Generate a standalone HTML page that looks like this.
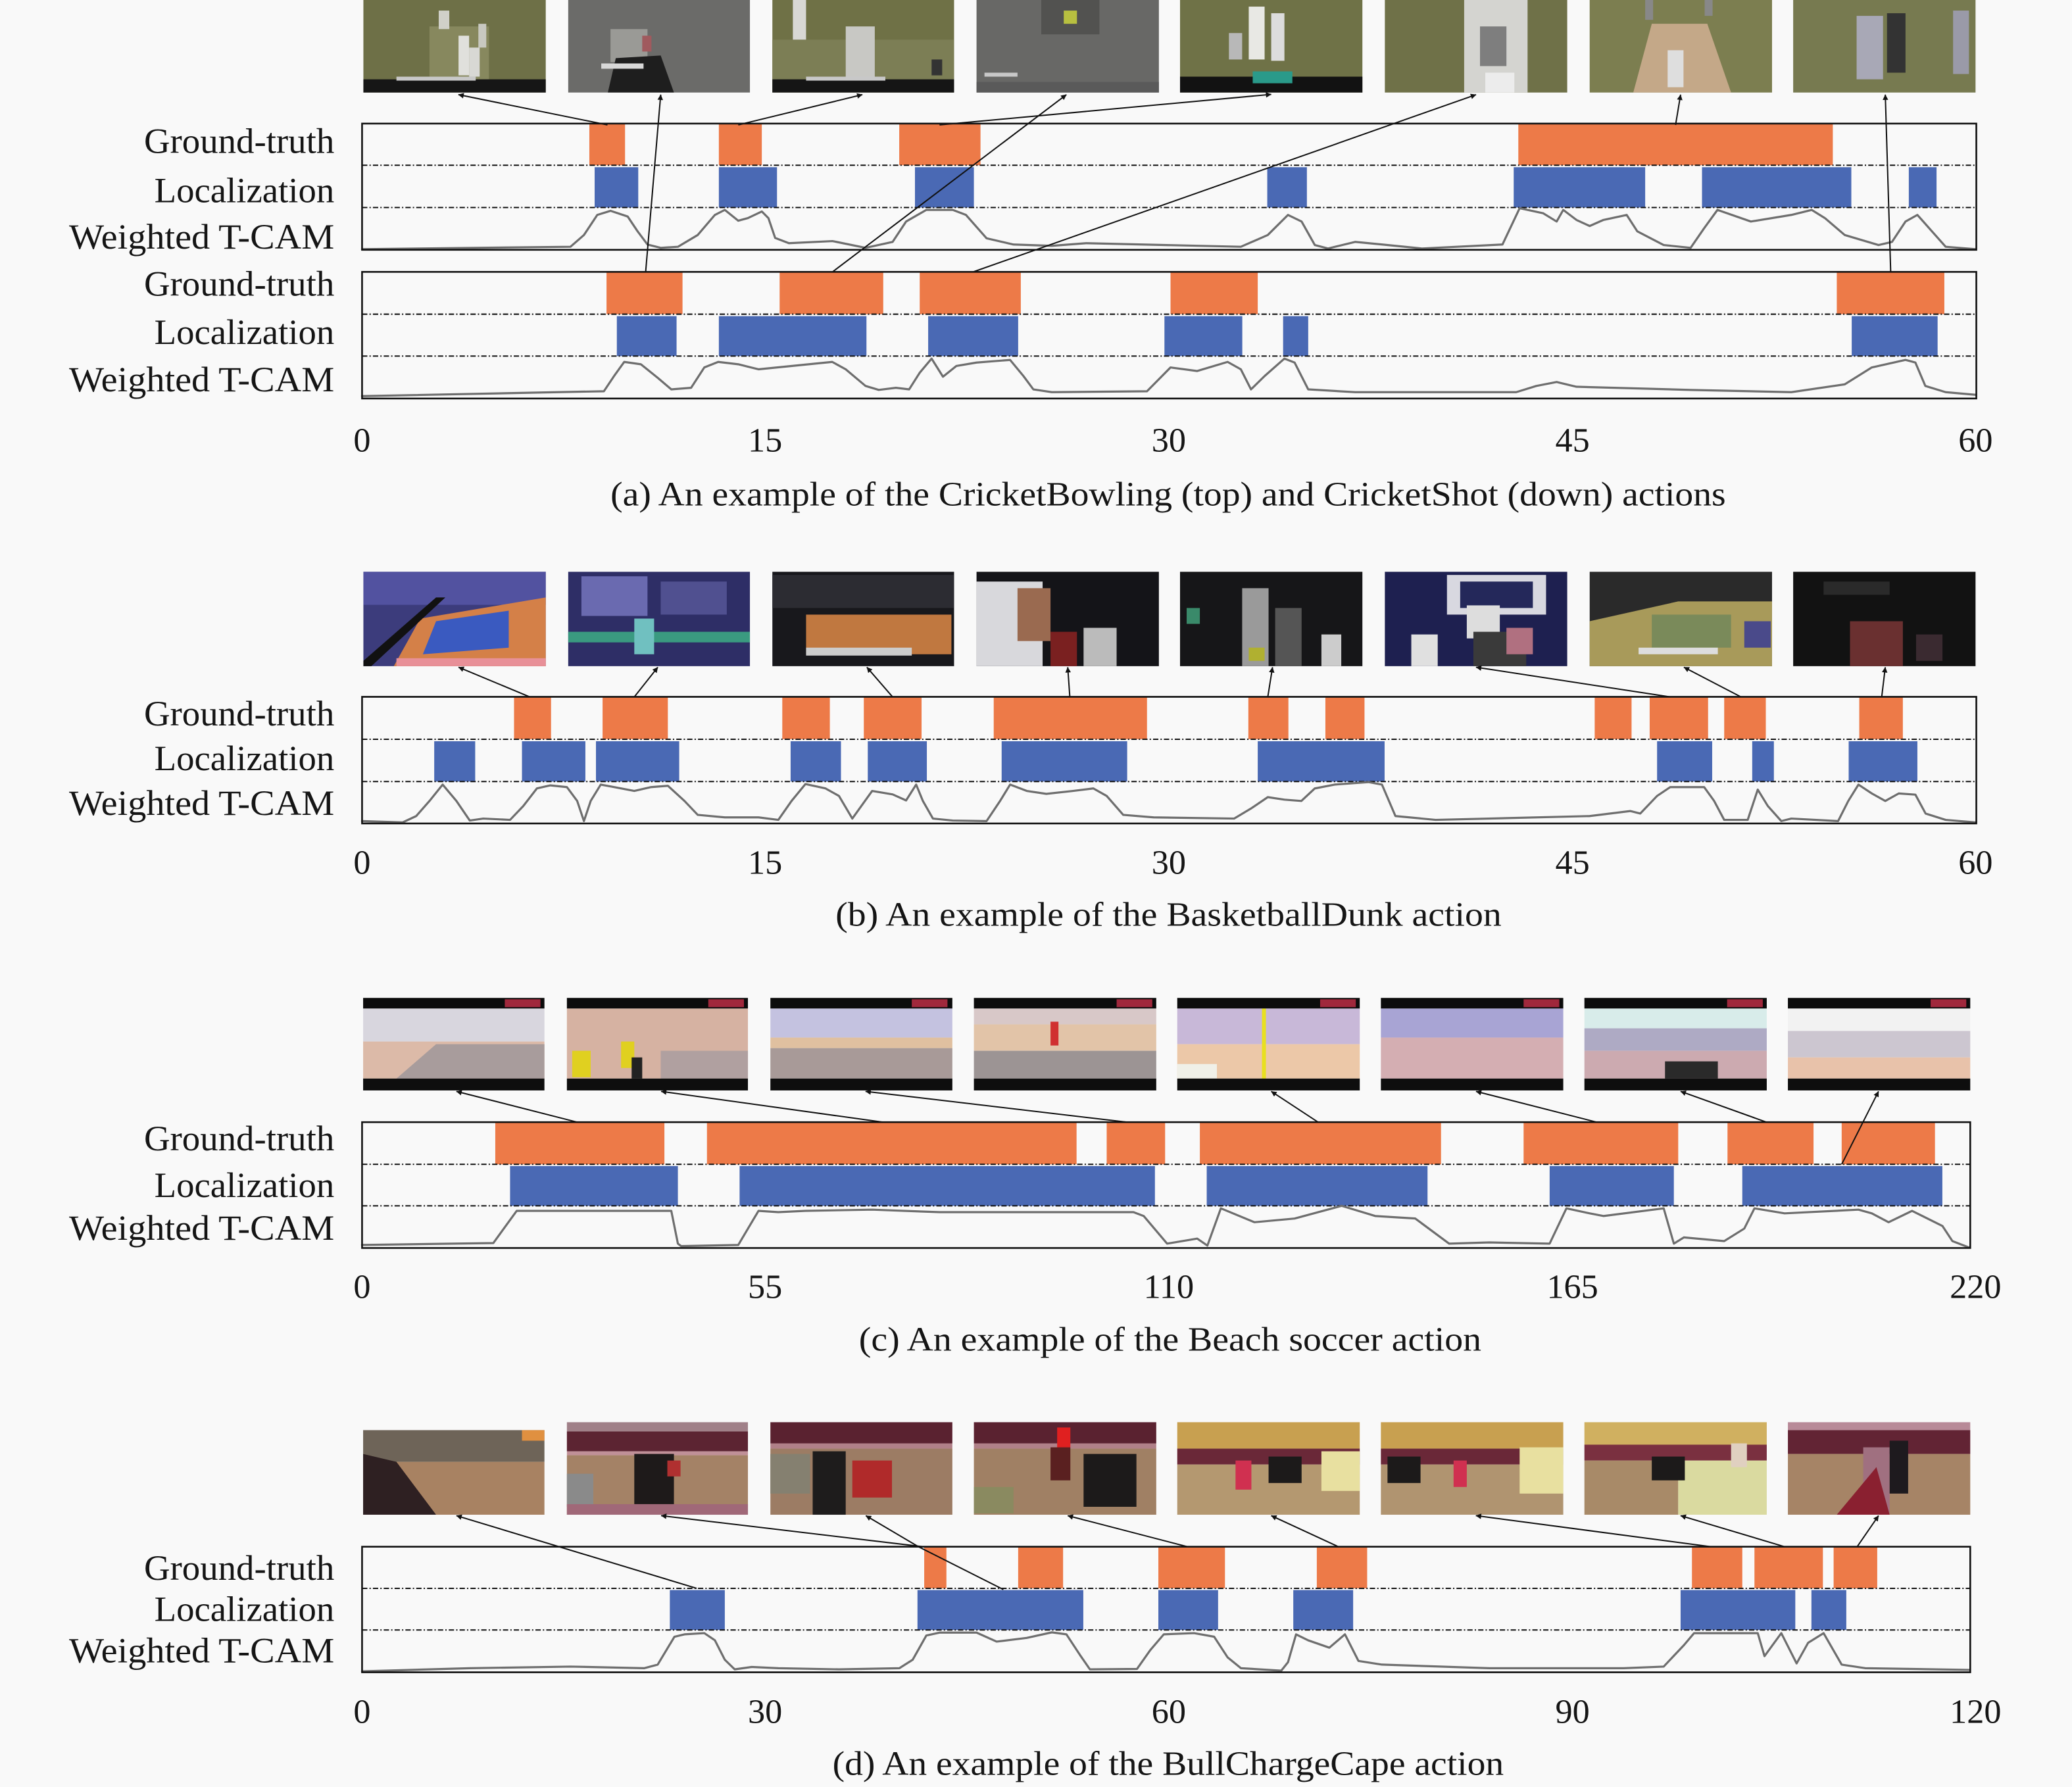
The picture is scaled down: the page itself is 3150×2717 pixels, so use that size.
<!DOCTYPE html>
<html><head><meta charset="utf-8"><style>
html,body{margin:0;padding:0;background:#f9f9f9;}
svg{display:block;}
text{font-family:"Liberation Serif",serif;fill:#151515;}
</style></head><body>
<svg xmlns="http://www.w3.org/2000/svg" width="3150" height="2717" viewBox="0 0 1568 1352" preserveAspectRatio="none">
<defs>
<marker id="ah" viewBox="0 0 10 10" refX="9.5" refY="5" markerWidth="6" markerHeight="4.2" orient="auto" markerUnits="userSpaceOnUse"><path d="M0,0 L10,5 L0,10 z" fill="#111"/></marker>
</defs>
<rect x="0" y="0" width="1568" height="1352" fill="#f9f9f9"/>

<!-- ========== ROW A THUMBNAILS (cricket) ========== -->
<g>
<rect x="275" y="0" width="138" height="70" fill="#6e7047"/>
<rect x="325" y="20" width="45" height="40" fill="#87885e"/>
<rect x="347" y="27" width="8" height="30" fill="#e0e0dc"/>
<rect x="332" y="8" width="8" height="14" fill="#d0d0c8"/>
<rect x="362" y="18" width="6" height="18" fill="#c8c8c0"/>
<rect x="355" y="36" width="8" height="22" fill="#d8d8d4"/>
<rect x="275" y="60" width="138" height="10" fill="#161616"/>
<rect x="300" y="58" width="60" height="3" fill="#c8c8c8"/>

<rect x="430" y="0" width="137.5" height="70" fill="#6b6b69"/>
<rect x="462" y="22" width="28" height="25" fill="#9a9a96"/>
<rect x="486" y="27" width="7" height="12" fill="#a05a5e"/>
<polygon points="466,44 500,42 510,70 460,70" fill="#1e1e1e"/>
<rect x="455" y="48" width="32" height="4" fill="#d8d8d8"/>

<rect x="584.5" y="0" width="137.5" height="70" fill="#6f7146"/>
<rect x="584.5" y="30" width="137.5" height="30" fill="#7c7e55"/>
<rect x="600" y="0" width="10" height="30" fill="#d8d8d4"/>
<rect x="640" y="20" width="22" height="40" fill="#c8c8c4"/>
<rect x="705" y="45" width="8" height="12" fill="#333"/>
<rect x="584.5" y="60" width="137.5" height="10" fill="#151515"/>
<rect x="610" y="58" width="60" height="3" fill="#c8c8c8"/>

<rect x="739" y="0" width="138" height="70" fill="#686866"/>
<rect x="788" y="0" width="44" height="26" fill="#525250"/>
<rect x="805" y="8" width="10" height="10" fill="#b8c040"/>
<rect x="739" y="62" width="138" height="8" fill="#5a5a5a"/>
<rect x="745" y="55" width="25" height="3" fill="#c8c8c8"/>

<rect x="893" y="0" width="138" height="70" fill="#6f7247"/>
<rect x="945" y="5" width="12" height="40" fill="#e8e8e4"/>
<rect x="962" y="10" width="10" height="36" fill="#dcdcdc"/>
<rect x="930" y="25" width="10" height="20" fill="#b8b8b8"/>
<rect x="893" y="58" width="138" height="12" fill="#121212"/>
<rect x="948" y="54" width="30" height="9" fill="#2a9a8a"/>

<rect x="1048" y="0" width="138" height="70" fill="#6f7148"/>
<rect x="1108" y="0" width="48" height="70" fill="#d4d4d0"/>
<rect x="1120" y="20" width="20" height="30" fill="#7e7e7e"/>
<rect x="1124" y="55" width="22" height="15" fill="#ececec"/>

<rect x="1203" y="0" width="138" height="70" fill="#7c7e50"/>
<polygon points="1250,18 1292,18 1310,70 1236,70" fill="#c4a888"/>
<rect x="1262" y="38" width="12" height="28" fill="#dedede"/>
<rect x="1245" y="0" width="6" height="15" fill="#888"/>
<rect x="1290" y="0" width="6" height="12" fill="#888"/>

<rect x="1357" y="0" width="138" height="70" fill="#777a50"/>
<rect x="1405" y="12" width="20" height="48" fill="#a8a8b6"/>
<rect x="1428" y="10" width="14" height="45" fill="#333"/>
<rect x="1478" y="8" width="12" height="48" fill="#9a9aa8"/>
</g>

<!-- ========== ROW B THUMBNAILS (basketball) ========== -->
<g>
<rect x="275" y="432.6" width="138" height="71.4" fill="#3c3c7c"/>
<rect x="275" y="432.6" width="138" height="25" fill="#5252a0"/>
<polygon points="318,468 413,452 413,504 298,504" fill="#d48048"/>
<polygon points="330,470 385,462 385,490 320,495" fill="#3a5ac0"/>
<polygon points="275,500 330,452 337,452 281,504 275,504" fill="#111"/>
<rect x="300" y="498" width="113" height="6" fill="#e89098"/>

<rect x="430" y="432.6" width="137.5" height="71.4" fill="#2e2e66"/>
<rect x="440" y="436" width="50" height="30" fill="#6a6ab0"/>
<rect x="500" y="440" width="50" height="25" fill="#505090"/>
<rect x="430" y="478" width="137.5" height="8" fill="#3a9a80"/>
<rect x="480" y="468" width="15" height="27" fill="#70c0c0"/>

<rect x="584.5" y="432.6" width="137.5" height="71.4" fill="#18181c"/>
<rect x="584.5" y="435" width="137.5" height="25" fill="#2c2c32"/>
<rect x="610" y="465" width="110" height="30" fill="#c07840"/>
<rect x="610" y="490" width="80" height="6" fill="#cccccc"/>

<rect x="739" y="432.6" width="138" height="71.4" fill="#141418"/>
<rect x="739" y="440" width="50" height="64" fill="#d8d8dc"/>
<rect x="770" y="445" width="25" height="40" fill="#9a6a50"/>
<rect x="820" y="475" width="25" height="29" fill="#bbbbbb"/>
<rect x="795" y="478" width="20" height="26" fill="#7a2020"/>

<rect x="893" y="432.6" width="138" height="71.4" fill="#161618"/>
<rect x="940" y="445" width="20" height="59" fill="#9a9a9a"/>
<rect x="965" y="460" width="20" height="44" fill="#555"/>
<rect x="1000" y="480" width="15" height="24" fill="#cccccc"/>
<rect x="898" y="460" width="10" height="12" fill="#3a8a6a"/>
<rect x="945" y="490" width="12" height="10" fill="#b0b030"/>

<rect x="1048" y="432.6" width="138" height="71.4" fill="#1e2050"/>
<rect x="1095" y="435" width="75" height="30" fill="#d8d8e0"/>
<rect x="1105" y="440" width="55" height="20" fill="#24285a"/>
<rect x="1110" y="458" width="25" height="25" fill="#dddddd"/>
<rect x="1068" y="480" width="20" height="24" fill="#e0e0e0"/>
<rect x="1115" y="478" width="40" height="26" fill="#3a3a3a"/>
<rect x="1140" y="475" width="20" height="20" fill="#b07080"/>

<rect x="1203" y="432.6" width="138" height="71.4" fill="#2a2a2a"/>
<polygon points="1203,470 1270,455 1341,455 1341,504 1203,504" fill="#a89a5a"/>
<rect x="1250" y="465" width="60" height="25" fill="#7a8a5a"/>
<rect x="1240" y="490" width="60" height="5" fill="#dddddd"/>
<rect x="1320" y="470" width="20" height="20" fill="#4a4a8a"/>

<rect x="1357" y="432.6" width="138" height="71.4" fill="#121212"/>
<rect x="1400" y="470" width="40" height="34" fill="#6a3030"/>
<rect x="1450" y="480" width="20" height="20" fill="#3a2a30"/>
<rect x="1380" y="440" width="50" height="10" fill="#2a2a2a"/>
</g>

<!-- ========== ROW C THUMBNAILS (beach soccer) ========== -->
<g>
<rect x="274.8" y="763" width="137.2" height="25" fill="#d8d6de"/>
<rect x="274.8" y="788" width="137.2" height="28" fill="#dcbaa8"/>
<polygon points="300,816 330,790 412,790 412,816" fill="#a89c9c"/>

<rect x="429" y="763" width="137" height="53" fill="#d6b2a2"/>
<rect x="500" y="795" width="66" height="21" fill="#b0a0a0"/>
<rect x="433" y="795" width="14" height="20" fill="#e0d020"/>
<rect x="470" y="788" width="10" height="20" fill="#e0d020"/>
<rect x="478" y="800" width="8" height="16" fill="#222"/>

<rect x="583" y="763" width="137.7" height="22" fill="#c4c2e0"/>
<rect x="583" y="785" width="137.7" height="8" fill="#e0c0a0"/>
<rect x="583" y="793" width="137.7" height="23" fill="#a89a98"/>

<rect x="737" y="763" width="138" height="12" fill="#d8c8c8"/>
<rect x="737" y="775" width="138" height="20" fill="#e2c4a8"/>
<rect x="737" y="795" width="138" height="21" fill="#9c9494"/>
<rect x="795" y="773" width="6" height="18" fill="#d03030"/>

<rect x="890.9" y="763" width="138.1" height="27" fill="#c8b8d8"/>
<rect x="890.9" y="790" width="138.1" height="26" fill="#ecc8a8"/>
<rect x="955" y="763" width="3" height="53" fill="#e8e020"/>
<rect x="890.9" y="805" width="30" height="11" fill="#f0f0e8"/>

<rect x="1045" y="763" width="138" height="22" fill="#a8a4d4"/>
<rect x="1045" y="785" width="138" height="31" fill="#d4aeb2"/>

<rect x="1199" y="763" width="138" height="15" fill="#d8ecea"/>
<rect x="1199" y="778" width="138" height="17" fill="#aeaac4"/>
<rect x="1199" y="795" width="138" height="21" fill="#ccaab0"/>
<rect x="1260" y="803" width="40" height="13" fill="#2a2a2a"/>

<rect x="1353" y="763" width="138" height="17" fill="#f2f2f2"/>
<rect x="1353" y="780" width="138" height="20" fill="#ccc6d0"/>
<rect x="1353" y="800" width="138" height="16" fill="#e8c2aa"/>

<!-- black bands -->
<rect x="274.8" y="755" width="137.2" height="8" fill="#0c0c0c"/><rect x="382" y="756" width="27" height="6" fill="#a0283c"/><rect x="274.8" y="816" width="137.2" height="9" fill="#0e0e0e"/>
<rect x="429" y="755" width="137" height="8" fill="#0c0c0c"/><rect x="536" y="756" width="27" height="6" fill="#a0283c"/><rect x="429" y="816" width="137" height="9" fill="#0e0e0e"/>
<rect x="583" y="755" width="137.7" height="8" fill="#0c0c0c"/><rect x="690" y="756" width="27" height="6" fill="#a0283c"/><rect x="583" y="816" width="137.7" height="9" fill="#0e0e0e"/>
<rect x="737" y="755" width="138" height="8" fill="#0c0c0c"/><rect x="845" y="756" width="27" height="6" fill="#a0283c"/><rect x="737" y="816" width="138" height="9" fill="#0e0e0e"/>
<rect x="890.9" y="755" width="138.1" height="8" fill="#0c0c0c"/><rect x="999" y="756" width="27" height="6" fill="#a0283c"/><rect x="890.9" y="816" width="138.1" height="9" fill="#0e0e0e"/>
<rect x="1045" y="755" width="138" height="8" fill="#0c0c0c"/><rect x="1153" y="756" width="27" height="6" fill="#a0283c"/><rect x="1045" y="816" width="138" height="9" fill="#0e0e0e"/>
<rect x="1199" y="755" width="138" height="8" fill="#0c0c0c"/><rect x="1307" y="756" width="27" height="6" fill="#a0283c"/><rect x="1199" y="816" width="138" height="9" fill="#0e0e0e"/>
<rect x="1353" y="755" width="138" height="8" fill="#0c0c0c"/><rect x="1461" y="756" width="27" height="6" fill="#a0283c"/><rect x="1353" y="816" width="138" height="9" fill="#0e0e0e"/>
</g>

<!-- ========== ROW D THUMBNAILS (bullfight) ========== -->
<g>
<rect x="274.8" y="1082" width="137.2" height="24" fill="#6e6458"/>
<rect x="274.8" y="1106" width="137.2" height="40" fill="#a88262"/>
<polygon points="274.8,1100 300,1106 330,1146 274.8,1146" fill="#2e2022"/>
<rect x="395" y="1082" width="17" height="8" fill="#e09040"/>

<rect x="429" y="1076" width="137" height="7" fill="#a08088"/>
<rect x="429" y="1083" width="137" height="15" fill="#5c2432"/>
<rect x="429" y="1098" width="137" height="3" fill="#c09098"/>
<rect x="429" y="1101" width="137" height="45" fill="#a48266"/>
<rect x="429" y="1115" width="20" height="25" fill="#8a8a8a"/>
<rect x="480" y="1100" width="30" height="38" fill="#1e1a1a"/>
<rect x="505" y="1105" width="10" height="12" fill="#b03030"/>
<rect x="429" y="1138" width="137" height="8" fill="#a06878"/>

<rect x="583" y="1076" width="137.7" height="16" fill="#5a2230"/>
<rect x="583" y="1092" width="137.7" height="4" fill="#b08088"/>
<rect x="583" y="1096" width="137.7" height="50" fill="#9c7c64"/>
<rect x="583" y="1100" width="30" height="30" fill="#858070"/>
<rect x="615" y="1098" width="25" height="48" fill="#1e1c1c"/>
<rect x="645" y="1105" width="30" height="28" fill="#b02a2a"/>

<rect x="737" y="1076" width="138" height="16" fill="#5a2230"/>
<rect x="737" y="1092" width="138" height="4" fill="#b08088"/>
<rect x="737" y="1096" width="138" height="50" fill="#a08064"/>
<rect x="737" y="1125" width="30" height="20" fill="#8a8a60"/>
<rect x="800" y="1080" width="10" height="15" fill="#e02020"/>
<rect x="795" y="1095" width="15" height="25" fill="#5a2020"/>
<rect x="820" y="1100" width="40" height="40" fill="#1c1a1a"/>

<rect x="890.9" y="1076" width="138.1" height="20" fill="#c8a050"/>
<rect x="890.9" y="1096" width="138.1" height="12" fill="#6a2838"/>
<rect x="890.9" y="1108" width="138.1" height="38" fill="#b49870"/>
<rect x="1000" y="1098" width="29" height="30" fill="#e8e0a0"/>
<rect x="960" y="1102" width="25" height="20" fill="#1c1a1a"/>
<rect x="935" y="1105" width="12" height="22" fill="#d03050"/>

<rect x="1045" y="1076" width="138" height="20" fill="#c8a050"/>
<rect x="1045" y="1096" width="138" height="12" fill="#6a2838"/>
<rect x="1045" y="1108" width="138" height="38" fill="#b09470"/>
<rect x="1150" y="1095" width="33" height="35" fill="#e8e0a0"/>
<rect x="1050" y="1102" width="25" height="20" fill="#1c1a1a"/>
<rect x="1100" y="1105" width="10" height="20" fill="#d03050"/>

<rect x="1199" y="1076" width="138" height="17" fill="#d0b060"/>
<rect x="1199" y="1093" width="138" height="12" fill="#7a3040"/>
<rect x="1199" y="1105" width="71" height="41" fill="#a88a68"/>
<rect x="1270" y="1105" width="67" height="41" fill="#dadaa0"/>
<rect x="1250" y="1102" width="25" height="18" fill="#1c1a1a"/>
<rect x="1310" y="1092" width="12" height="18" fill="#e0d0c0"/>

<rect x="1353" y="1076" width="138" height="6" fill="#b88a98"/>
<rect x="1353" y="1082" width="138" height="18" fill="#622434"/>
<rect x="1353" y="1100" width="138" height="46" fill="#a68466"/>
<rect x="1410" y="1095" width="20" height="50" fill="#a07080"/>
<rect x="1430" y="1090" width="14" height="40" fill="#1e1a1e"/>
<polygon points="1390,1146 1420,1110 1430,1146" fill="#8a2030"/>
</g>

<!-- ========== BARS ========== -->
<g fill="#ed7a48">
<!-- a1 GT -->
<rect x="446" y="93.5" width="27" height="31.5"/><rect x="544" y="93.5" width="32.5" height="31.5"/><rect x="680.5" y="93.5" width="61.5" height="31.5"/><rect x="1149" y="93.5" width="238" height="31.5"/>
<!-- a2 GT -->
<rect x="459" y="205.7" width="57.5" height="32"/><rect x="590" y="205.7" width="78.4" height="32"/><rect x="696" y="205.7" width="76.5" height="32"/><rect x="885.8" y="205.7" width="66" height="32"/><rect x="1390" y="205.7" width="81.4" height="32"/>
<!-- b GT -->
<rect x="389" y="527.2" width="28" height="32"/><rect x="456" y="527.2" width="49.4" height="32"/><rect x="592" y="527.2" width="36" height="32"/><rect x="653.7" y="527.2" width="43.7" height="32"/><rect x="752" y="527.2" width="116" height="32"/><rect x="944.7" y="527.2" width="30.3" height="32"/><rect x="1003" y="527.2" width="29.6" height="32"/><rect x="1206.8" y="527.2" width="27.9" height="32"/><rect x="1248.4" y="527.2" width="44.2" height="32"/><rect x="1304.8" y="527.2" width="31.5" height="32"/><rect x="1407" y="527.2" width="33" height="32"/>
<!-- c GT -->
<rect x="374.8" y="849" width="128" height="31.9"/><rect x="535" y="849" width="279.7" height="31.9"/><rect x="837.5" y="849" width="44.2" height="31.9"/><rect x="908" y="849" width="182.5" height="31.9"/><rect x="1153" y="849" width="117" height="31.9"/><rect x="1307.3" y="849" width="65.1" height="31.9"/><rect x="1393.7" y="849" width="70.6" height="31.9"/>
<!-- d GT -->
<rect x="699.4" y="1170.2" width="16.8" height="31.5"/><rect x="770.5" y="1170.2" width="34" height="31.5"/><rect x="876.6" y="1170.2" width="50.4" height="31.5"/><rect x="996.5" y="1170.2" width="38.1" height="31.5"/><rect x="1280.4" y="1170.2" width="38.1" height="31.5"/><rect x="1327.7" y="1170.2" width="51.8" height="31.5"/><rect x="1387.6" y="1170.2" width="33" height="31.5"/>
</g>
<g fill="#4a69b4">
<!-- a1 Loc -->
<rect x="450" y="126.5" width="33" height="30.5"/><rect x="544" y="126.5" width="44" height="30.5"/><rect x="692.4" y="126.5" width="44.6" height="30.5"/><rect x="959" y="126.5" width="30" height="30.5"/><rect x="1145.5" y="126.5" width="99.5" height="30.5"/><rect x="1288" y="126.5" width="113" height="30.5"/><rect x="1444.5" y="126.5" width="21" height="30.5"/>
<!-- a2 Loc -->
<rect x="466.8" y="239.2" width="45.2" height="30.2"/><rect x="544" y="239.2" width="111.7" height="30.2"/><rect x="702.4" y="239.2" width="68.1" height="30.2"/><rect x="881.2" y="239.2" width="58.9" height="30.2"/><rect x="971" y="239.2" width="19" height="30.2"/><rect x="1401.3" y="239.2" width="65" height="30.2"/>
<!-- b Loc -->
<rect x="328.6" y="560.8" width="31" height="30.5"/><rect x="395" y="560.8" width="48" height="30.5"/><rect x="451" y="560.8" width="63" height="30.5"/><rect x="598.3" y="560.8" width="38.1" height="30.5"/><rect x="656.7" y="560.8" width="44.7" height="30.5"/><rect x="758" y="560.8" width="95" height="30.5"/><rect x="951.8" y="560.8" width="96" height="30.5"/><rect x="1254" y="560.8" width="41.7" height="30.5"/><rect x="1326" y="560.8" width="16.4" height="30.5"/><rect x="1399" y="560.8" width="52" height="30.5"/>
<!-- c Loc -->
<rect x="386" y="882.2" width="127" height="30.1"/><rect x="559.7" y="882.2" width="314.3" height="30.1"/><rect x="913.2" y="882.2" width="167.1" height="30.1"/><rect x="1172.7" y="882.2" width="94" height="30.1"/><rect x="1318.5" y="882.2" width="151.4" height="30.1"/>
<!-- d Loc -->
<rect x="506.9" y="1203" width="41.6" height="30.2"/><rect x="694.3" y="1203" width="125.5" height="30.2"/><rect x="876.6" y="1203" width="45.2" height="30.2"/><rect x="978.7" y="1203" width="45.3" height="30.2"/><rect x="1271.8" y="1203" width="86.8" height="30.2"/><rect x="1370.8" y="1203" width="26.4" height="30.2"/>
</g>

<!-- ========== DASHED SEPARATORS ========== -->
<g stroke="#111" stroke-width="1" stroke-dasharray="4 1.6 1 1.6" fill="none">
<line x1="274" y1="125" x2="1495.6" y2="125"/><line x1="274" y1="157" x2="1495.6" y2="157"/>
<line x1="274" y1="237.7" x2="1495.6" y2="237.7"/><line x1="274" y1="269.4" x2="1495.6" y2="269.4"/>
<line x1="274" y1="559.3" x2="1495.6" y2="559.3"/><line x1="274" y1="591.3" x2="1495.6" y2="591.3"/>
<line x1="274" y1="880.9" x2="1491" y2="880.9"/><line x1="274" y1="912.3" x2="1491" y2="912.3"/>
<line x1="274" y1="1201.7" x2="1491" y2="1201.7"/><line x1="274" y1="1233.2" x2="1491" y2="1233.2"/>
</g>

<!-- ========== CURVES ========== -->
<g fill="none" stroke="#6e6e6e" stroke-width="1.6" stroke-linejoin="round" stroke-linecap="round">
<polyline points="274,188.5 431.7,186.7 441.9,177.8 452,162.6 462,159.5 475,163.8 482.5,175 490,185 500,187.5 513,186.7 528,177.8 541,162.6 548.5,158.8 558.7,167 566,165 576.5,160 581.5,165 586.6,180 597,184 630,182.4 655,187.5 675.5,183 685.7,167.6 701,158.8 721,158.8 731,162.6 746.6,180.3 767,185 796,186 822,184 939,186.7 959.4,177.8 974.7,162.6 985,167.6 995,185.4 1005,188 1025.5,183 1046,185 1076,188 1137,185 1150,157.5 1167.7,161.3 1178,167.6 1183,158.8 1193,166.4 1203,171 1213.4,166.4 1231,162.6 1239,175 1259,185.4 1279.4,187.5 1289.6,172.7 1299.7,158.8 1325,167.6 1355.6,162.6 1371,158.8 1381,165 1396,177.8 1421.6,185.4 1431.8,183 1442,167.6 1451,162.6 1462,175 1472.4,186.7 1495,188.5"/>
<polyline points="274,299.7 457,296 464.7,284.5 472.4,273.8 485,275.6 497.7,285.8 508,294.6 523,293.4 533,278 543.5,273.8 558.7,275.6 574,279.4 629.8,273.8 640,279.4 655,292 665,295 678,293.4 688,294.6 696,282 705,271.3 713.6,285 723.7,276.9 739,274.3 764.4,272.3 774.5,284.5 782,294.6 796,296.7 868,296 885.8,278 906,280.7 929,273.8 939,279.4 946.7,294.6 957,284.5 972,271.3 979.7,274.3 990,294.6 1025.5,296.7 1147.4,296.7 1162.6,292 1178,289 1193,292.6 1279.4,295 1355.6,296.7 1396,290.8 1416.5,278 1442,272.3 1449.5,274.3 1457,292 1472.4,296.7 1495,298.7"/>
<polyline points="274,621.2 304.7,622.2 315,617.4 325,606 335,593.6 345.4,606 355.5,620.8 365.7,619.3 386,620.3 396,609.8 406.3,596.5 416.5,594.2 429,595.5 436.8,606 441.9,621.2 447,606 454.6,593.6 464.7,595.5 480,598.4 492.7,595.5 505.4,594.5 518,606 528,616.5 548.5,618.4 574,618.4 589,620.3 599,606 609.5,593.2 624.7,596.5 634.9,602.2 645,619.3 660,598.4 675.5,601 685.7,605.6 693.3,593.6 698.4,606 706,619.3 721,620.8 746.6,621.2 756.8,606 764.4,593.6 777,598.4 791.8,600.6 812,598.4 827.4,596.5 837.5,602.2 850,616.5 873,618.4 934,619.3 946.7,611.7 959.4,603.1 972,605 984.8,606 995,596.5 1010,593.6 1035.6,591.7 1045.8,593.6 1056,617.4 1086.4,620.3 1203,617.4 1233.7,613.6 1241.3,615.5 1254,602.2 1264,595.5 1289.6,595.5 1297.2,606 1304.8,620.3 1322.6,620.3 1330.2,597.4 1337.8,609.8 1348,621.2 1355.6,619.3 1391,621.2 1398.7,606 1406.4,593.6 1416.5,600.3 1426.7,606 1436.9,600.3 1449.5,601.2 1457.2,615.5 1472.4,620.3 1495,622.2"/>
<polyline points="274,941.9 373.3,940.5 391,916.1 508,916.1 513,940.9 515.5,942.8 558.7,941.9 574,916.1 589,917.1 609.5,916.1 660,915.2 711,917.1 857.8,917.1 865.5,920 883.2,940.9 906,937.1 913.7,942.4 923.9,914.2 949.3,924.7 979.7,921.9 1015.3,912.3 1040.7,920 1071,921.9 1096.6,940.9 1127,940 1172.7,940.9 1185.4,914.2 1203,918 1213.4,920 1259,914.2 1266.7,940.9 1274.3,936.2 1304.8,939 1320,929.5 1327.7,914.2 1350.5,918 1406.4,915.2 1416.5,918 1429.2,924.7 1447,916.1 1470,927.6 1477.5,939 1490,943.8"/>
<polyline points="274,1264.5 355.5,1262.1 431.7,1260.9 487.6,1262.1 497.7,1259.4 510.4,1238.3 518,1236.5 533,1235.6 541,1241 548.5,1255.7 556,1263 568.8,1261.2 589,1262.1 634.9,1263 680.6,1262.1 690.7,1255.7 701,1237.4 711,1235.2 739,1235.2 754.2,1242 777,1239.2 796,1235 807,1236.5 817.2,1252 824.8,1263 860.4,1262.7 870.5,1248.4 880.7,1236.5 903.6,1235.6 918.8,1238.3 929,1253.9 939.1,1262.1 969.6,1264 974.7,1257.6 980.8,1236.5 989.9,1241 1006,1246.6 1017.8,1236.5 1028,1256.6 1045.8,1259.4 1127,1262.1 1228.6,1262.1 1259,1260.9 1274.3,1244.7 1282,1235.6 1330.2,1235.6 1335.3,1253 1348,1235.6 1359.6,1258.5 1368.3,1242.9 1380,1235.6 1393.7,1259.4 1411.5,1262.1 1490,1263.4"/>
</g>

<!-- ========== BOX BORDERS ========== -->
<g fill="none" stroke="#111" stroke-width="1.3">
<rect x="274" y="93.5" width="1221.6" height="95.5"/>
<rect x="274" y="205.7" width="1221.6" height="95.8"/>
<rect x="274" y="527.2" width="1221.6" height="95.8"/>
<rect x="274" y="849" width="1217" height="95.2"/>
<rect x="274" y="1170.2" width="1217" height="95"/>
</g>

<!-- ========== ARROWS ========== -->
<g stroke="#111" stroke-width="1" fill="none" marker-end="url(#ah)">
<line x1="459.7" y1="94.5" x2="346.9" y2="71.6"/>
<line x1="488.6" y1="205.7" x2="500" y2="71.6"/>
<line x1="558.7" y1="94.5" x2="652.6" y2="71.6"/>
<line x1="711" y1="94.5" x2="962" y2="71.4"/>
<line x1="630" y1="205.7" x2="807" y2="71.6"/>
<line x1="736.5" y1="205.7" x2="1117" y2="71.6"/>
<line x1="1268" y1="94.5" x2="1271.8" y2="71.6"/>
<line x1="1430.8" y1="205.7" x2="1426.7" y2="71.6"/>

<line x1="401" y1="527.3" x2="347" y2="504.8"/>
<line x1="480" y1="527.3" x2="497.8" y2="504.8"/>
<line x1="675.5" y1="527.3" x2="656" y2="504.8"/>
<line x1="809.6" y1="527.3" x2="808" y2="504.8"/>
<line x1="959.4" y1="527.3" x2="963" y2="504.8"/>
<line x1="1264" y1="527.3" x2="1117" y2="504.8"/>
<line x1="1317.5" y1="527.3" x2="1274.3" y2="504.8"/>
<line x1="1424" y1="527.3" x2="1426.7" y2="504.8"/>

<line x1="436.8" y1="849" x2="345.4" y2="825.7"/>
<line x1="668" y1="849" x2="500.3" y2="825.7"/>
<line x1="852.8" y1="849" x2="655" y2="825.7"/>
<line x1="997.5" y1="849" x2="962" y2="825.7"/>
<line x1="1208.3" y1="849" x2="1117" y2="825.7"/>
<line x1="1336.8" y1="849" x2="1271.8" y2="825.7"/>
<line x1="1393.7" y1="880.9" x2="1421.6" y2="825.7"/>

<line x1="527.2" y1="1201.7" x2="345.4" y2="1146.7"/>
<line x1="698.4" y1="1170.2" x2="500.3" y2="1146.7"/>
<polyline points="759.3,1202.6 695,1170.2 655.2,1146.7"/>
<line x1="898.5" y1="1170.2" x2="808" y2="1146.7"/>
<line x1="1012.8" y1="1170.2" x2="962" y2="1146.7"/>
<line x1="1294.6" y1="1170.2" x2="1116.9" y2="1146.7"/>
<line x1="1350.5" y1="1170.2" x2="1271.8" y2="1146.7"/>
<line x1="1405.4" y1="1170.2" x2="1421.6" y2="1146.7"/>
</g>

<!-- ========== ROW LABELS ========== -->
<g font-size="27">
<text x="109" y="115.6" textLength="144" lengthAdjust="spacingAndGlyphs">Ground-truth</text>
<text x="116.8" y="153" textLength="136.2" lengthAdjust="spacingAndGlyphs">Localization</text>
<text x="52.3" y="188.2" textLength="200.7" lengthAdjust="spacingAndGlyphs">Weighted T-CAM</text>

<text x="109" y="223.8" textLength="144" lengthAdjust="spacingAndGlyphs">Ground-truth</text>
<text x="116.8" y="260.3" textLength="136.2" lengthAdjust="spacingAndGlyphs">Localization</text>
<text x="52.3" y="296.2" textLength="200.7" lengthAdjust="spacingAndGlyphs">Weighted T-CAM</text>

<text x="109" y="548.8" textLength="144" lengthAdjust="spacingAndGlyphs">Ground-truth</text>
<text x="116.8" y="582.7" textLength="136.2" lengthAdjust="spacingAndGlyphs">Localization</text>
<text x="52.3" y="616.5" textLength="200.7" lengthAdjust="spacingAndGlyphs">Weighted T-CAM</text>

<text x="109" y="870.4" textLength="144" lengthAdjust="spacingAndGlyphs">Ground-truth</text>
<text x="116.8" y="905.7" textLength="136.2" lengthAdjust="spacingAndGlyphs">Localization</text>
<text x="52.3" y="938" textLength="200.7" lengthAdjust="spacingAndGlyphs">Weighted T-CAM</text>

<text x="109" y="1195.3" textLength="144" lengthAdjust="spacingAndGlyphs">Ground-truth</text>
<text x="116.8" y="1226.4" textLength="136.2" lengthAdjust="spacingAndGlyphs">Localization</text>
<text x="52.3" y="1257.6" textLength="200.7" lengthAdjust="spacingAndGlyphs">Weighted T-CAM</text>
</g>

<!-- ========== TICK LABELS ========== -->
<g font-size="26" text-anchor="middle">
<text x="274" y="341.5">0</text><text x="579" y="341.5">15</text><text x="884.5" y="341.5">30</text><text x="1190" y="341.5">45</text><text x="1495" y="341.5">60</text>
<text x="274" y="661">0</text><text x="579" y="661">15</text><text x="884.5" y="661">30</text><text x="1190" y="661">45</text><text x="1495" y="661">60</text>
<text x="274" y="982">0</text><text x="579" y="982">55</text><text x="884.5" y="982">110</text><text x="1190" y="982">165</text><text x="1495" y="982">220</text>
<text x="274" y="1303.4">0</text><text x="579" y="1303.4">30</text><text x="884.5" y="1303.4">60</text><text x="1190" y="1303.4">90</text><text x="1495" y="1303.4">120</text>
</g>

<!-- ========== CAPTIONS ========== -->
<g font-size="26">
<text x="462" y="382.5" textLength="844" lengthAdjust="spacingAndGlyphs">(a) An example of the CricketBowling (top) and CricketShot (down) actions</text>
<text x="632.3" y="700.3" textLength="504" lengthAdjust="spacingAndGlyphs">(b) An example of the BasketballDunk action</text>
<text x="650" y="1021.9" textLength="471" lengthAdjust="spacingAndGlyphs">(c) An example of the Beach soccer action</text>
<text x="630" y="1342.7" textLength="508" lengthAdjust="spacingAndGlyphs">(d) An example of the BullChargeCape action</text>
</g>
</svg>
</body></html>
